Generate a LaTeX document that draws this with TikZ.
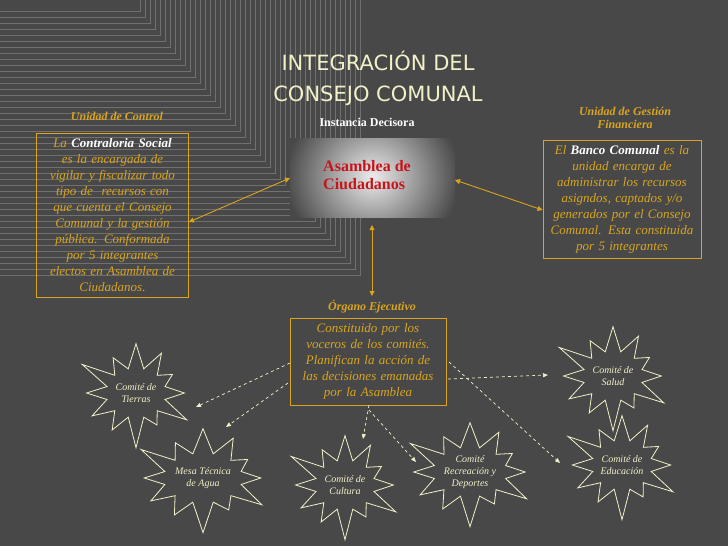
\documentclass[tikz,border=0pt]{standalone}
\usepackage{fontspec}
\setmainfont{Liberation Serif}
\newfontfamily\titlefont{DejaVu Sans}
\usetikzlibrary{shapes.symbols,arrows.meta}
\definecolor{bg}{HTML}{484848}
\definecolor{gold}{HTML}{D9A520}
\definecolor{cream}{HTML}{F2F0C8}
\definecolor{asred}{HTML}{C8141C}
\tikzset{
  x=1pt,y=-1pt,
  lbl/.style={font=\bfseries\itshape\fontsize{12}{13}\selectfont,text=gold,align=center},
  goldbox/.style={draw=gold,line width=0.9pt,text=gold,font=\itshape\fontsize{13}{16}\selectfont,align=center,inner sep=1pt},
  star/.style={starburst,starburst points=12,starburst point height=34pt,draw=cream,line width=0.8pt,
    font=\itshape\fontsize{10}{12}\selectfont,text=cream,align=center,minimum width=128pt,minimum height=118pt,inner sep=0pt},
  goldarr/.style={gold,line width=0.9pt,{Triangle[length=5pt,width=5pt]}-{Triangle[length=5pt,width=5pt]}},
  dasharr/.style={cream,dashed,line width=0.7pt,-{Triangle[length=5pt,width=4pt]}}
}
\begin{document}
\begin{tikzpicture}
\useasboundingbox (0,0) rectangle (728,546);
\fill[bg] (0,0) rectangle (728,546);
\foreach \i in {0,...,44}{
  \draw[white,opacity=0.22,line width=0.4pt] (0,{275-6*\i}) -- ({360-5*\i},{275-6*\i}) -- ({360-5*\i},0);
}
% glow
\begin{scope}
\clip (290,138) rectangle (455,217);
\shade[inner color=white!85!gray,outer color=bg] (285,95) rectangle (460,258);
\end{scope}
\node[font=\titlefont\fontsize{21}{31}\selectfont,text=cream,align=center] (title) at (378,78) {INTEGRACIÓN DEL\\CONSEJO COMUNAL};
\node[lbl] (uc) at (117,116) {Unidad de Control};
\node[font=\bfseries\fontsize{12}{13}\selectfont,text=white] (inst) at (367,122) {Instancia Decisora};
\node[lbl] (ug) at (625,118) {Unidad de Gestión\\Financiera};
\node[goldbox,minimum width=151pt,minimum height=164pt,text width=150pt] (ctrl) at (112.5,215)
 {La \textcolor{white}{\textbf{Contraloria Social}}\\ es la encargada de\\ vigilar y fiscalizar todo\\ tipo de \ recursos con\\ que cuenta el Consejo\\ Comunal y la gestión\\ pública. Conformada\\ por 5 integrantes\\ electos en Asamblea de\\ Ciudadanos.};
\node[font=\bfseries\fontsize{16}{18}\selectfont,text=asred,align=left] (asam) at (367,175) {Asamblea de\\Ciudadanos};
\node[goldbox,minimum width=158pt,minimum height=118pt,text width=156pt] (fin) at (622,199)
 {El \textcolor{white}{\textbf{Banco Comunal}} es la\\ unidad encarga de\\ administrar los recursos\\ asigndos, captados y/o\\ generados por el Consejo\\ Comunal. Esta constituida\\ por 5 integrantes};
\coordinate (asL) at (290,178);
\coordinate (asR) at (455,180);
\coordinate (asB) at (372,225);
\draw[goldarr] (asL) -- (ctrl.east |- 0,222);
\draw[goldarr] (asR) -- (fin.west |- 0,210);
\node[lbl] (org) at (372,307) {Órgano Ejecutivo};
\node[goldbox,minimum width=156pt,minimum height=87pt,text width=154pt] (exec) at (368,361.5)
 {Constituido por los\\ voceros de los comités.\\ Planifican la acción de\\ las decisiones emanadas\\ por la Asamblea};
\draw[goldarr] (asB) -- (372,296);
\node[star] (tierras) at (136,393) {Comité de\\Tierras};
\node[star] (mesa) at (203,478) {Mesa Técnica\\de Agua};
\node[star] (cultura) at (345,485) {Comité de\\Cultura};
\node[star] (recre) at (470,472) {Comité\\Recreación y\\Deportes};
\node[star] (salud) at (613,376) {Comité de\\Salud};
\node[star] (edu) at (622,465) {Comité de\\Educación};
\draw[dasharr] (290,363) -- (196,407);
\draw[dasharr] (288,383) -- (226,427);
\draw[dasharr] (369,405) -- (363,439);
\draw[dasharr] (369,410) -- (416,462);
\draw[dasharr] (448,379) -- (548,375);
\draw[dasharr] (449,362) -- (560,463);
\end{tikzpicture}
\end{document}
